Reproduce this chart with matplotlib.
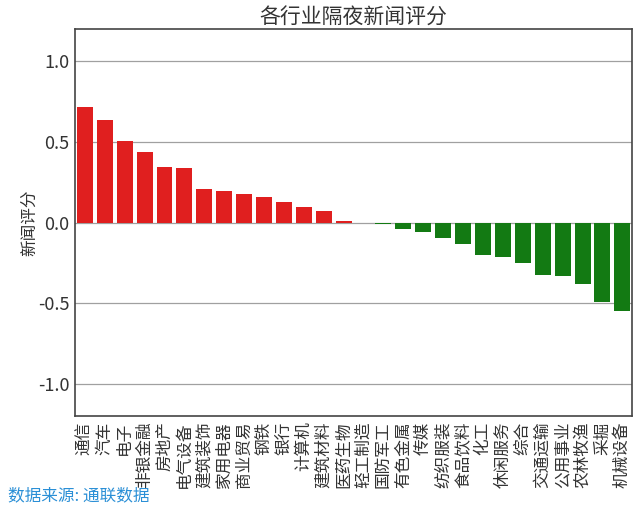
import numpy as np
import matplotlib
matplotlib.use('Agg')
import matplotlib.pyplot as plt

plt.rcParams['font.family'] = ['Noto Sans CJK SC', 'DejaVu Sans']
plt.rcParams['axes.unicode_minus'] = False

# 行业及隔夜新闻评分
industries = ['通信', '汽车', '电子', '非银金融', '房地产', '电气设备', '建筑装饰', '家用电器',
              '商业贸易', '钢铁', '银行', '计算机', '建筑材料', '医药生物', '轻工制造', '国防军工',
              '有色金属', '传媒', '纺织服装', '食品饮料', '化工', '休闲服务', '综合', '交通运输',
              '公用事业', '农林牧渔', '采掘', '机械设备']
scores = [0.717, 0.639, 0.505, 0.438, 0.345, 0.339, 0.205, 0.194,
          0.175, 0.161, 0.126, 0.099, 0.072, 0.010, -0.003, -0.010,
          -0.037, -0.056, -0.099, -0.134, -0.200, -0.215, -0.254, -0.327,
          -0.330, -0.380, -0.496, -0.547]

x = np.arange(len(industries))
colors = ['#e01f1f' if s > 0 else '#137a13' for s in scores]

fig = plt.figure(figsize=(6.4, 5.11), dpi=100)
ax = fig.add_axes([0.117, 0.186, 0.871, 0.757])

ax.grid(axis='y', color='#a0a0a0', linewidth=0.9)
ax.set_axisbelow(True)
ax.bar(x, scores, width=0.8, color=colors)

ax.set_xlim(-0.5, len(industries) - 0.5)
ax.set_ylim(-1.2, 1.2)
ax.set_yticks([-1.0, -0.5, 0.0, 0.5, 1.0])
ax.set_yticklabels(['-1.0', '-0.5', '0.0', '0.5', '1.0'], fontsize=13, color='#333333')
ax.set_xticks(x)
ax.set_xticklabels(industries, rotation=90, fontsize=12, color='#333333')
ax.tick_params(length=0, pad=4)
for sp in ax.spines.values():
    sp.set_color('#444444')
    sp.set_linewidth(1.2)

ax.set_ylabel('新闻评分', fontsize=12, color='#333333', labelpad=0)
ax.set_title('各行业隔夜新闻评分', fontsize=15, color='#333333', pad=4)

fig.text(0.012, 0.02, '数据来源: 通联数据', fontsize=12, color='#2a8fd6')

fig.savefig('out.png', dpi=100)
